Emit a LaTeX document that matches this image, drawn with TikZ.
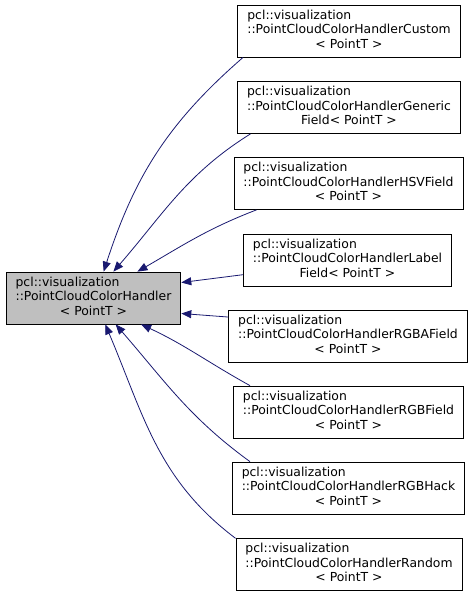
\documentclass[tikz,border=0pt]{standalone}
\usepackage{fontspec}
\setmainfont{DejaVu Sans}
\usepackage{xcolor}
\usepackage{tikz}
\usetikzlibrary{arrows.meta}
\definecolor{edgeblue}{HTML}{191970}
\definecolor{basegray}{HTML}{BFBFBF}
\newcommand{\clsname}[3]{\begin{tabular}{@{}l@{}}#1\\#2\\\multicolumn{1}{@{}c@{}}{#3}\end{tabular}}
\tikzset{
  cls/.style={draw=black, fill=white, line width=0.8pt, inner xsep=9.5pt, inner ysep=3pt,
    minimum height=52pt, font=\fontsize{12.4}{14.5}\selectfont},
  basecls/.style={cls, fill=basegray},
  inh/.style={draw=edgeblue, line width=0.8pt, -{Triangle[length=10pt,width=8pt]}}
}
\begin{document}
\begin{tikzpicture}[x=1pt,y=-1pt]
  \useasboundingbox (0,0) rectangle (474,597);

  \node[basecls] (base) at (93.5,298) {\clsname{pcl::visualization}{::PointCloudColorHandler}{< PointT >}};

  \node[cls] (custom)  at (349,31)    {\clsname{pcl::visualization}{::PointCloudColorHandlerCustom}{< PointT >}};
  \node[cls] (generic) at (349,107.5) {\clsname{pcl::visualization}{::PointCloudColorHandlerGeneric}{Field< PointT >}};
  \node[cls] (hsv)     at (348.5,183.5) {\clsname{pcl::visualization}{::PointCloudColorHandlerHSVField}{< PointT >}};
  \node[cls] (label)   at (347.5,260) {\clsname{pcl::visualization}{::PointCloudColorHandlerLabel}{Field< PointT >}};
  \node[cls] (rgba)    at (348,336)   {\clsname{pcl::visualization}{::PointCloudColorHandlerRGBAField}{< PointT >}};
  \node[cls] (rgb)     at (348.5,412) {\clsname{pcl::visualization}{::PointCloudColorHandlerRGBField}{< PointT >}};
  \node[cls] (rgbhack) at (348.5,488) {\clsname{pcl::visualization}{::PointCloudColorHandlerRGBHack}{< PointT >}};
  \node[cls] (random)  at (349,564.5) {\clsname{pcl::visualization}{::PointCloudColorHandlerRandom}{< PointT >}};

  \draw[inh] (custom.194)  to[out=221, in=72] (base.69);
  \draw[inh] (generic.195) to[out=212, in=49] (base.53);
  \draw[inh] (hsv.196)     to[out=201, in=30] (base.31);
  \draw[inh] (label.188)   -- (base.10);
  \draw[inh] (rgba.171)    -- (base.-10);
  \draw[inh] (rgb.165)     to[out=151, in=-25] (base.-29);
  \draw[inh] (rgbhack.165) to[out=144, in=-49] (base.-50);
  \draw[inh] (random.167)  to[out=143, in=-67] (base.-66);
\end{tikzpicture}
\end{document}
